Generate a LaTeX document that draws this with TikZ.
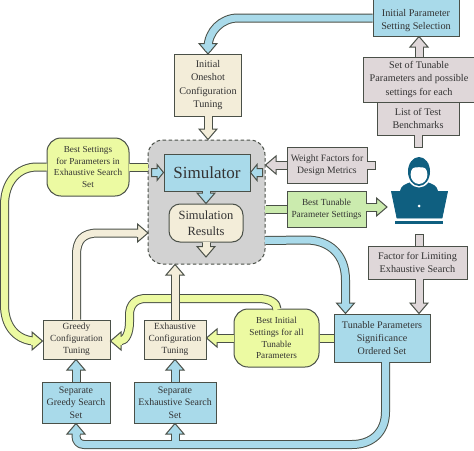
\documentclass[tikz,border=0pt]{standalone}
\usepackage{fontspec}
\setmainfont{Liberation Serif}
\usetikzlibrary{calc}
\definecolor{edgec}{HTML}{4A5048}
\definecolor{beigec}{HTML}{F3EDD9}
\definecolor{bluec}{HTML}{A9DAEA}
\definecolor{yelc}{HTML}{ECFAA2}
\definecolor{mauvec}{HTML}{DFD7D9}
\definecolor{greenc}{HTML}{CBEBAE}
\definecolor{grayc}{HTML}{D2D2D2}
\definecolor{personc}{HTML}{0F5F80}
\tikzset{
  x=1pt,y=-1pt,
  boxn/.style={draw=edgec,line width=1pt,align=center,inner sep=0pt,font=\fontsize{10.2}{13.4}\selectfont,text=black!80},
  fnt/.style 2 args={font=\fontsize{#1}{#2}\selectfont},
  beigebox/.style={boxn,fill=beigec},
  bluebox/.style={boxn,fill=bluec},
  mauvebox/.style={boxn,fill=mauvec},
  greenbox/.style={boxn,fill=greenc},
  yelbox/.style={boxn,fill=yelc,rounded corners=14pt},
  outerline/.style={edgec,line width=9pt,line join=round},
  innerline/.style={line width=7pt,line join=round,shorten <=-0.7pt},
}
\newcommand{\pbox}[7]{\node[#2,minimum width={(#5-#3)*1pt},minimum height={(#6-#4)*1pt}] (#1) at ({(#3+#5)/2},{(#4+#6)/2}) {#7};}
% block arrow: [path options], colour, path to the head's base, tip coordinate, pointing angle
\newcommand{\barrow}[5][]{%
  \draw[outerline,#1] #3;
  \begin{scope}[shift={(#4)},rotate=#5]
    \filldraw[fill=#2,draw=edgec,line width=1pt,line join=miter] (0,0)--(-10.5,9)--(-10.5,-9)--cycle;
  \end{scope}
  \draw[innerline,#2,#1] #3;
  \begin{scope}[shift={(#4)},rotate=#5]
    \fill[#2] (-11.4,-3.5) rectangle (-9.5,3.5);
  \end{scope}
}
% shaft with no head
\newcommand{\bshaft}[2]{%
  \draw[outerline] #2;
  \draw[innerline,#1] #2;
}
% closed-tail stub
\newcommand{\bstub}[2]{%
  \draw[outerline] #2;
  \draw[innerline,#1,shorten >=1pt] #2;
}
% small closed arrow: colour, tip, angle
\newcommand{\sarrow}[3]{%
  \begin{scope}[shift={(#2)},rotate=#3]
    \filldraw[fill=#1,draw=edgec,line width=1pt,line join=miter]
      (0,0)--(-6.5,8)--(-6.5,4)--(-12,4)--(-12,-4)--(-6.5,-4)--(-6.5,-8)--cycle;
  \end{scope}
}
\begin{document}
\begin{tikzpicture}
\useasboundingbox (0,0) rectangle (474,450);
\fill[white] (0,0) rectangle (474,450);
% gray container
\node[draw=edgec,fill=grayc,dash pattern=on 3.5pt off 2.5pt,line width=1pt,rounded corners=15pt,minimum width=117pt,minimum height=124pt,inner sep=0pt] (simgroup) at (206.5,202) {};
% boxes
\pbox{init}{bluebox}{373}{-2}{459}{36}{\rule{0pt}{14pt}Initial Parameter\\Setting Selection}
\pbox{oneshot}{beigebox}{174.5}{54}{241.5}{116.5}{Initial\\Oneshot\\Configuration\\Tuning}
\pbox{set}{mauvebox}{363}{57}{475}{102}{Set of Tunable\\Parameters and possible\\settings for each}
\pbox{list}{mauvebox}{377}{102}{459}{135}{List of Test\\Benchmarks}
\pbox{weight}{mauvebox,fnt={9.7}{12.4}}{287}{147}{367}{183}{Weight Factors for\\Design Metrics}
\pbox{besttun}{greenbox,fnt={9.3}{12.3}}{287}{191}{366}{227}{Best Tunable\\Parameter Settings}
\pbox{factor}{mauvebox,fnt={10.2}{12.7}}{368}{246}{467}{279}{Factor for Limiting\\Exhaustive Search}
\pbox{tunable}{bluebox,fnt={10.1}{12.8}}{334}{314}{430}{362}{Tunable Parameters\\Significance\\Ordered Set}
\pbox{greedy}{beigebox,fnt={9.4}{11.8}}{43}{320}{110}{359}{Greedy\\Configuration\\Tuning}
\pbox{exh}{beigebox,fnt={9.4}{11.8}}{144}{320}{206}{359}{Exhaustive\\Configuration\\Tuning}
\pbox{sepg}{bluebox,fnt={9.9}{12.3}}{42}{382}{110}{423}{Separate\\Greedy Search\\Set}
\pbox{sepe}{bluebox,fnt={9.9}{12.3}}{134}{382}{216}{423}{Separate\\Exhaustive Search\\Set}
\pbox{bests}{yelbox,fnt={9.2}{11.7}}{47}{138}{129}{196}{Best Settings\\for Parameters in\\Exhaustive Search\\Set}
\pbox{besti}{yelbox,fnt={9.2}{11.8}}{234}{309}{319}{367}{Best Initial\\Settings for all\\Tunable\\Parameters}
\pbox{simr}{beigebox,rounded corners=11pt,fnt={12.5}{15.5}}{169}{204}{243}{242}{Simulation\\Results}
\pbox{simu}{bluebox,fnt={17}{20}}{164}{154}{250}{191}{Simulator}
% user icon
\fill[personc] (400,191) .. controls (401,185) and (406,184) .. (411,182) -- (427,182) .. controls (432,184) and (437,185) .. (438,191) -- cycle;
\fill[white] (419,172) ellipse [x radius=12.5,y radius=15.5];
\fill[personc] (419,171.5) ellipse [x radius=11,y radius=14.5];
\fill[white] (419,174.5) ellipse [x radius=8.4,y radius=9.5];
\fill[personc] (410,163) -- (428,163) -- (428,169) .. controls (424,166.5) and (414,166.5) .. (410,169) -- cycle;
\filldraw[personc,line width=0.8pt,line join=round] (391.5,191.5) -- (447.5,191.5) -- (442,218) -- (397,218) -- cycle;
\fill[personc] (395,221) rectangle (443,224);
\fill[white] (419,206) circle (1.5);
% tips
\coordinate (usertip) at (387,207);
\coordinate (usertop) at (418,148);
\coordinate (t_one) at (208,54);
\coordinate (t_group) at (oneshot.south |- simgroup.north);
\coordinate (t_init) at (set.north |- init.south);
\coordinate (t_tun) at ($(tunable.north)+(-36.5,0)$);
\coordinate (t_tun2) at ($(factor.south |- tunable.north)+(1.5,0)$);
\coordinate (t_gy) at ($(greedy.west)+(0,1.5)$);
\coordinate (t_gy2) at ($(greedy.east)+(0,1.5)$);
\coordinate (t_gg) at (148,233);
\coordinate (t_ee) at (exh.north |- simgroup.south);
\coordinate (t_ex) at (exh.east |- besti.west);
\coordinate (t_res) at (206,257);
\coordinate (t_sg) at (sepg.north |- greedy.south);
\coordinate (t_se) at (sepe.north |- exh.south);
% connectors
\barrow[rounded corners=30pt]{bluec}{($(init.west)+(0,1)$) -- (208,18) -- (208,43.5)}{t_one}{-90}
\barrow{beigec}{(oneshot.south) -- ($(t_group)+(0,-10)$)}{t_group}{-90}
\barrow{mauvec}{(set.north) -- ($(t_init)+(0,10)$)}{t_init}{90}
\bstub{mauvec}{(list.south) -- (usertop)}
\barrow{mauvec}{(weight.west) -- (274.5,165)}{simgroup.east |- weight.west}{180}
\bstub{mauvec}{(weight.east) -- (376,165)}
\sarrow{bluec}{simu.west}{0}
\sarrow{bluec}{simu.east}{180}
\barrow{bluec}{(simu.south -| simr.north) -- ($(simr.north)+(0,-10)$)}{simr.north}{-90}
\barrow{beigec}{(simr.south) -- ($(t_res)+(0,-10)$)}{t_res}{-90}
\bshaft{greenc}{(simgroup.east |- besttun.west) -- (besttun.west)}
\barrow{greenc}{($(besttun.east)+(0,-2)$) -- (376.5,207)}{usertip}{0}
\bshaft{yelc}{(bests.east) -- (bests.east -| simgroup.west)}
\barrow{yelc}{(bests.west) -- (37,167) .. controls (18,167) and (4.5,182) .. (4.5,205) -- (4.5,305) .. controls (4.5,325) and (15,339) .. (33,341)}{t_gy}{0}
\barrow{yelc}{(277,309) .. controls (277,303) and (270,298.5) .. (258,298.5) -- (146,298.5) .. controls (136,298.5) and (129.5,304) .. (129.5,315) -- (129.5,322) .. controls (129.5,332) and (126,341) .. (120,341)}{t_gy2}{180}
\barrow{yelc}{(besti.west) -- ($(t_ex)+(10,0)$)}{t_ex}{180}
\bshaft{yelc}{(tunable.west) -- (besti.east)}
\barrow{beigec}{(exh.north) -- ($(t_ee)+(0,10)$)}{t_ee}{90}
\barrow{beigec}{(greedy.north) -- (76.5,255) .. controls (76.5,240) and (83,233) .. (98,233) -- (138,233)}{t_gg}{0}
\barrow{bluec}{($(simgroup.south east)+(0,-24)$) -- (306,240) .. controls (330,240) and (345.5,255) .. (345.5,280) -- ($(t_tun)+(0,-10)$)}{t_tun}{-90}
\bstub{mauvec}{($(factor.north)+(1.5,0)$) -- ($(factor.north)+(1.5,-12)$)}
\barrow{mauvec}{($(factor.south)+(1.5,0)$) -- ($(t_tun2)+(0,-10)$)}{t_tun2}{-90}
\barrow{bluec}{(sepg.north) -- ($(t_sg)+(0,10)$)}{t_sg}{90}
\barrow{bluec}{(sepe.north) -- ($(t_se)+(0,10)$)}{t_se}{90}
% search-set bus
\barrow{bluec}{($(tunable.south)+(3.5,0)$) -- (385.5,412) .. controls (385.5,432) and (372,444.5) .. (352,444.5) -- (84,444.5) .. controls (79,444.5) and (76,441) .. (76,436) -- (76,433)}{sepg.south}{90}
\barrow{bluec}{(sepe.south |- 0,444.5) -- ($(sepe.south)+(0,10)$)}{sepe.south}{90}
\draw[bluec,line width=7pt] (160,444.5) -- (190,444.5);
\end{tikzpicture}
\end{document}
